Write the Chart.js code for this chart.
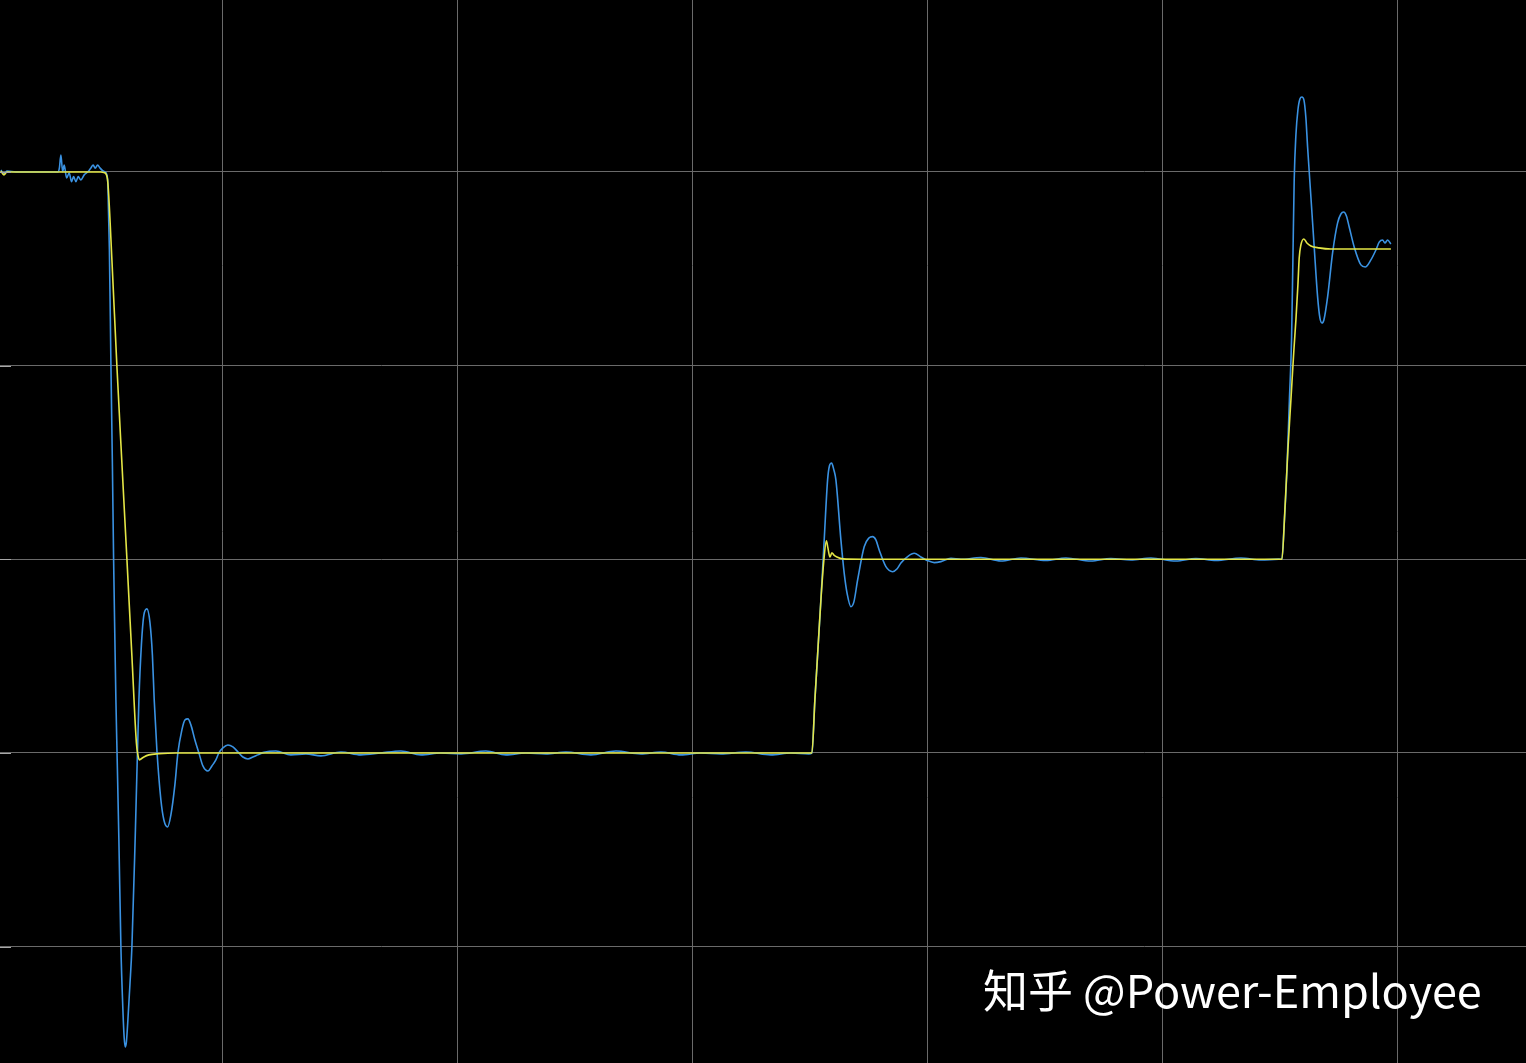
<!DOCTYPE html>
<html>
<head>
<meta charset="utf-8">
<script src="https://cdn.jsdelivr.net/npm/chart.js@4.4.1/dist/chart.umd.min.js"></script>
<style>
  html, body { margin: 0; padding: 0; background: #000; }
  #wrap { position: relative; width: 1526px; height: 1063px; }
  #mark {
    position: absolute; left: 983px; top: 966px;
    font-family: "Noto Sans CJK SC", "Noto Sans", sans-serif;
    font-size: 45px; line-height: 45px; color: #fff; white-space: nowrap;
  }
</style>
</head>
<body>
<div id="wrap">
  <canvas id="chart"></canvas>
  <div id="mark">知乎 @Power-Employee</div>
</div>
<script>
// ── Data (time in s, value in grid units) ─────────────
const refT = [0.0553, 0.0681, 0.0809, 0.1404, 0.4809, 0.4936, 0.5021, 0.5106, 0.5277, 0.5489,
  0.5702, 0.5915, 0.6128, 0.6319, 0.6383, 0.6447, 0.6511, 0.6638, 0.6851, 0.7277, 0.8,
  3.5064, 3.5191, 3.5319, 3.5447, 3.5574, 3.5681, 3.5745, 3.5830, 3.5915, 3.6, 3.6128, 3.6383, 3.7149,
  5.5064, 5.5191, 5.5319, 5.5447, 5.5574, 5.5660, 5.5745, 5.5800, 5.5872, 5.6, 5.6128, 5.6298,
  5.6638, 5.7149, 5.9702];
const refV = [3.005, 2.985, 3.000, 3.000, 3.000, 2.997, 2.990, 2.943, 2.546, 1.998,
  1.497, 1.002, 0.501, 0.052, -0.010, -0.036, -0.031, -0.021, -0.010, -0.004, 0,
  0, 0.274, 0.532, 0.790, 0.997, 1.095, 1.059, 1.012, 1.033, 1.022, 1.012, 1.002, 1.000,
  1.000, 1.255, 1.565, 1.823, 2.081, 2.236, 2.417, 2.556, 2.623, 2.654, 2.633, 2.618,
  2.608, 2.602, 2.602];

const fbT = [0.0553, 0.0681, 0.0809, 0.1191, 0.2979, 0.3043, 0.3106, 0.3179, 0.3247, 0.3349,
  0.3460, 0.3560, 0.3647, 0.3745, 0.3843, 0.3957, 0.4098, 0.4268, 0.4383, 0.4481,
  0.4566, 0.4668, 0.4766, 0.4881, 0.4979, 0.5064, 0.5106, 0.5170, 0.5234, 0.5298,
  0.5349, 0.5404, 0.5447, 0.5502, 0.5574, 0.5660, 0.5745, 0.5800, 0.5843, 0.5894,
  0.5957, 0.6043, 0.6128, 0.6277, 0.6426, 0.6532, 0.6638, 0.6766, 0.6894, 0.7000,
  0.7077, 0.7191, 0.7362, 0.7489, 0.7647, 0.7787, 0.7957, 0.8085, 0.8255, 0.8383,
  0.8511, 0.8638, 0.8809, 0.8979, 0.9149, 0.9362, 0.9532, 0.9702, 0.9830, 1.0000,
  1.0213, 1.0426, 1.0681, 1.0851, 1.1064, 1.1277, 1.1489, 1.1745,
  1.2255, 1.2894, 1.3532, 1.4170, 1.5021, 1.5872, 1.6723, 1.7574, 1.8426, 1.9277,
  2.0128, 2.1191, 2.2043, 2.2894, 2.3745, 2.4596, 2.5660, 2.6723, 2.7787, 2.8638,
  2.9489, 3.0340, 3.1191, 3.2255, 3.3319, 3.4170, 3.4936, 3.5064,
  3.5191, 3.5319, 3.5447, 3.5587, 3.5732, 3.5809, 3.5902, 3.6, 3.6085, 3.6298,
  3.6438, 3.6574, 3.6723, 3.6851, 3.7009, 3.7289, 3.7489, 3.7647, 3.7787, 3.7928,
  3.8213, 3.8498, 3.8681, 3.8851, 3.9136, 3.9417, 3.9702, 3.9987, 4.0268, 4.0553,
  4.0979, 4.1404,
  4.2255, 4.3106, 4.3957, 4.5021, 4.5872, 4.6936, 4.7787, 4.8638, 4.9489, 5.0553,
  5.1404, 5.2255, 5.3319, 5.4170, 5.4936, 5.5064,
  5.5149, 5.5277, 5.5383, 5.5477, 5.5532, 5.5587, 5.5660, 5.5745, 5.5830, 5.5915,
  5.6, 5.6085, 5.6157, 5.6298, 5.6438, 5.6583, 5.6681, 5.6766, 5.6851, 5.7009,
  5.7221, 5.7434, 5.7574, 5.7689, 5.7809, 5.7928, 5.8140, 5.8426, 5.8609, 5.8851,
  5.9064, 5.9204, 5.9349, 5.9447, 5.9562, 5.9702];
const fbV = [3.010, 2.990, 3.005, 3.000, 3.000, 3.021, 3.088, 3.002, 3.036, 2.969,
  2.995, 2.950, 2.976, 2.950, 2.976, 2.959, 2.985, 3.002, 3.021, 3.036,
  3.019, 3.036, 3.021, 3.007, 3.000, 2.985, 2.933, 2.597, 2.014, 1.487,
  1.002, 0.583, 0.274, -0.036, -0.449, -1.002, -1.327, -1.472, -1.518, -1.492,
  -1.379, -1.198, -1.002, -0.398, 0.274, 0.558, 0.713, 0.744, 0.676, 0.506,
  0.274, 0.015, -0.243, -0.346, -0.382, -0.320, -0.165, 0, 0.119, 0.170,
  0.176, 0.145, 0.067, 0, -0.067, -0.093, -0.067, -0.036, 0, 0.026,
  0.041, 0.031, 0, -0.021, -0.031, -0.021, -0.010, 0.003,
  0.010, -0.010, -0.005, -0.015, 0.005, -0.010, 0, 0.010, -0.010, 0,
  -0.005, 0.010, -0.010, 0, -0.005, 0.005, -0.010, 0.010, -0.005, 0.005,
  -0.010, 0, -0.005, 0.005, -0.010, 0, -0.005, 0,
  0.274, 0.532, 0.790, 1.100, 1.410, 1.482, 1.497, 1.461, 1.410, 1.100,
  0.929, 0.816, 0.755, 0.780, 0.893, 1.065, 1.110, 1.117, 1.100, 1.048,
  0.962, 0.936, 0.950, 0.981, 1.014, 1.031, 1.012, 0.993, 0.983, 0.988,
  1.005, 1.000,
  1.009, 0.991, 1.007, 0.994, 1.007, 0.991, 1.004, 0.996, 1.007, 0.991,
  1.004, 0.994, 1.007, 0.996, 1.001, 1.000,
  1.151, 1.461, 1.823, 2.148, 2.546, 2.959, 3.191, 3.320, 3.377, 3.387,
  3.372, 3.279, 3.129, 2.871, 2.613, 2.355, 2.246, 2.220, 2.236, 2.355,
  2.582, 2.737, 2.783, 2.793, 2.773, 2.716, 2.613, 2.520, 2.509, 2.546,
  2.597, 2.638, 2.649, 2.633, 2.649, 2.628];

const xMin = 0.0515, xMax = 6.5451;
const yMin = -1.601, yMax = 3.888;

// ── Left tick marks ───────────────────────────────────
const leftTicks = {
  id: 'leftTicks',
  afterDraw(chart) {
    const ctx = chart.ctx, y = chart.scales.y;
    ctx.save();
    ctx.strokeStyle = '#a8a8a8';
    ctx.lineWidth = 1;
    y.ticks.forEach(t => {
      const py = Math.round(y.getPixelForValue(t.value)) + 0.5;
      ctx.beginPath(); ctx.moveTo(0, py); ctx.lineTo(11, py); ctx.stroke();
    });
    ctx.restore();
  }
};

new Chart(document.getElementById('chart'), {
  type: 'line',
  data: {
    datasets: [{
      label: 'ref',
      data: refT.map((t, i) => ({ x: t, y: refV[i] })),
      borderColor: '#e4e646',
      borderWidth: 1.6,
      pointRadius: 0,
      cubicInterpolationMode: 'monotone'
    }, {
      label: 'feedback',
      data: fbT.map((t, i) => ({ x: t, y: fbV[i] })),
      borderColor: '#3a92e2',
      borderWidth: 1.6,
      pointRadius: 0,
      cubicInterpolationMode: 'monotone'
    }]
  },
  options: {
    animation: false, responsive: true, maintainAspectRatio: false,
    layout: { padding: 0 },
    plugins: { legend: { display: false }, tooltip: { enabled: false } },
    scales: {
      x: {
        type: 'linear', min: xMin, max: xMax,
        ticks: { display: false, stepSize: 1, includeBounds: false },
        grid: { color: '#6a6a6a', lineWidth: 1, drawTicks: false },
        border: { display: false }
      },
      y: {
        type: 'linear', min: yMin, max: yMax,
        ticks: { display: false, stepSize: 1, includeBounds: false },
        grid: { color: '#6a6a6a', lineWidth: 1, drawTicks: false },
        border: { display: false }
      }
    }
  },
  plugins: [leftTicks]
});
</script>
</body>
</html>
